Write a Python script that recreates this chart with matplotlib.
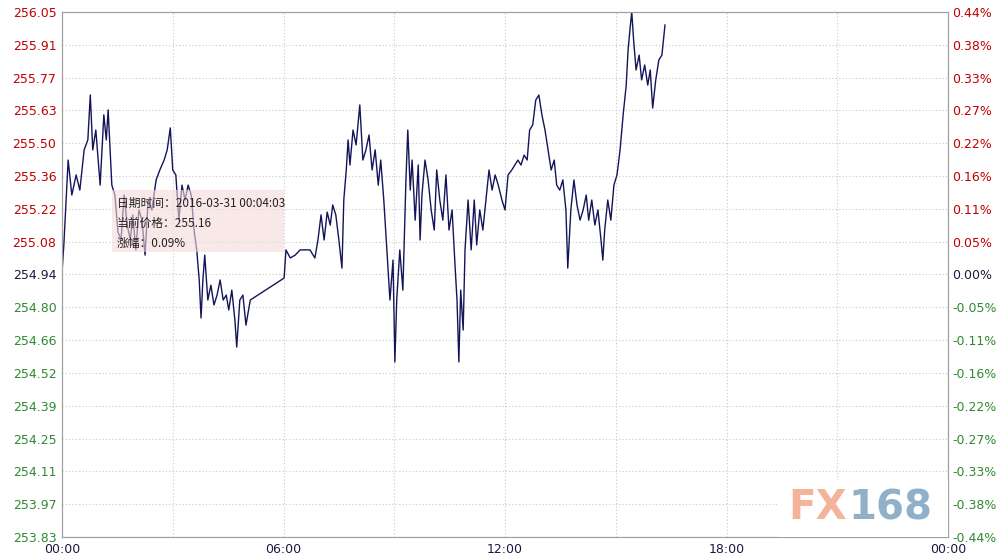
import matplotlib
matplotlib.use("Agg")
import matplotlib.pyplot as plt
from matplotlib.patches import Rectangle
import numpy as np

# minutes since 00:00 and price
minutes = [0, 3, 10, 16, 23, 29, 36, 42, 46, 50, 55, 62, 68, 72, 75, 81, 86, 91, 96, 101,
           106, 111, 115, 120, 125, 130, 135, 140, 146, 153, 159, 166, 171, 176, 180, 185,
           190, 195, 200, 205, 210, 215, 219, 223, 226, 229, 232, 237, 242, 247, 252, 257,
           262, 267, 271, 276, 281, 284, 289, 294, 299, 306, 361, 364, 371, 379, 387, 403,
           411, 416, 421, 426, 431, 436, 440, 445, 450, 455, 458, 462, 465, 468, 473, 478,
           484, 489, 494, 499, 504, 509, 514, 518, 523, 528, 533, 538, 541, 544, 549, 554,
           559, 562, 566, 569, 574, 579, 582, 585, 590, 595, 600, 605, 609, 614, 619, 624,
           629, 634, 639, 642, 645, 648, 652, 655, 660, 665, 670, 674, 679, 684, 689, 694,
           699, 704, 709, 715, 720, 725, 731, 736, 741, 746, 751, 756, 760, 765, 770, 775,
           780, 785, 790, 795, 800, 804, 809, 814, 819, 822, 827, 832, 837, 842, 847, 852,
           856, 861, 866, 871, 876, 879, 882, 887, 892, 897, 902, 907, 912, 917, 920, 923,
           926, 929, 933, 938, 942, 947, 952, 956, 960, 965, 970, 975, 980]
prices = [254.95, 255.065, 255.424, 255.276, 255.361, 255.297, 255.467, 255.509, 255.699, 255.467,
          255.551, 255.318, 255.615, 255.509, 255.636, 255.318, 255.276, 255.120, 255.086, 255.276,
          255.149, 255.086, 255.192, 255.044, 255.213, 255.170, 255.022, 255.255, 255.213, 255.340,
          255.382, 255.424, 255.467, 255.560, 255.382, 255.361, 255.170, 255.318, 255.255, 255.318,
          255.276, 255.120, 255.044, 254.917, 254.756, 254.917, 255.022, 254.832, 254.895, 254.811,
          254.853, 254.917, 254.832, 254.853, 254.790, 254.874, 254.747, 254.633, 254.832, 254.853,
          254.726, 254.832, 254.925, 255.044, 255.010, 255.022, 255.044, 255.044, 255.010, 255.086,
          255.192, 255.086, 255.204, 255.149, 255.234, 255.192, 255.086, 254.967, 255.255, 255.382,
          255.509, 255.403, 255.551, 255.488, 255.657, 255.424, 255.467, 255.530, 255.382, 255.467,
          255.318, 255.424, 255.255, 255.044, 254.832, 255.001, 254.570, 254.832, 255.044, 254.874,
          255.340, 255.551, 255.297, 255.424, 255.170, 255.403, 255.086, 255.276, 255.424, 255.340,
          255.213, 255.128, 255.382, 255.255, 255.170, 255.361, 255.128, 255.213, 254.967, 254.832,
          254.570, 254.874, 254.705, 255.044, 255.255, 255.044, 255.255, 255.065, 255.213, 255.128,
          255.255, 255.382, 255.297, 255.361, 255.318, 255.255, 255.213, 255.361, 255.382, 255.403,
          255.424, 255.403, 255.445, 255.424, 255.551, 255.572, 255.678, 255.699, 255.615, 255.551,
          255.467, 255.382, 255.424, 255.318, 255.297, 255.340, 255.213, 254.967, 255.213, 255.340,
          255.234, 255.170, 255.213, 255.276, 255.170, 255.255, 255.149, 255.213, 255.086, 255.001,
          255.128, 255.255, 255.170, 255.318, 255.361, 255.467, 255.615, 255.741, 255.889, 255.974,
          256.05, 255.932, 255.805, 255.868, 255.763, 255.826, 255.741, 255.805, 255.644, 255.763,
          255.847, 255.868, 255.995]

left_labels = ["253.83", "253.97", "254.11", "254.25", "254.39", "254.52", "254.66", "254.80",
               "254.94", "255.08", "255.22", "255.36", "255.50", "255.63", "255.77", "255.91", "256.05"]
right_labels = ["-0.44%", "-0.38%", "-0.33%", "-0.27%", "-0.22%", "-0.16%", "-0.11%", "-0.05%",
                "0.00%", "0.05%", "0.11%", "0.16%", "0.22%", "0.27%", "0.33%", "0.38%", "0.44%"]
x_labels = ["00:00", "06:00", "12:00", "18:00", "00:00"]
ymin, ymax = 253.83, 256.05

RED, GREEN, DARK = "#c00000", "#2f8a2f", "#1a1a40"

fig = plt.figure(figsize=(10.08, 5.59), dpi=100)
ax = fig.add_axes([0.0615, 0.0394, 0.879, 0.9391])
ax.plot(minutes, prices, color="#14145a", lw=1.0)
ax.set_xlim(0, 1440)
ax.set_ylim(ymin, ymax)

yt = np.linspace(ymin, ymax, len(left_labels))
ax.set_yticks(yt)
ax.set_yticklabels(left_labels, fontsize=9, fontfamily="DejaVu Sans")
for i, t in enumerate(ax.get_yticklabels()):
    t.set_color(GREEN if i < 8 else (DARK if i == 8 else RED))
ax.set_xticks(np.arange(0, 1441, 360))
ax.set_xticklabels(x_labels, fontsize=9, color=DARK)
ax.set_xticks(np.arange(0, 1441, 180), minor=True)
ax.tick_params(length=0, which="both", pad=4)
ax.grid(True, which="both", color="#c8c8c8", ls=(0, (1, 2)), lw=0.8)
for s in ax.spines.values():
    s.set_color("#a0a0a0")

ax2 = ax.twinx()
ax2.set_ylim(ymin, ymax)
ax2.set_yticks(yt)
ax2.set_yticklabels(right_labels, fontsize=9)
for i, t in enumerate(ax2.get_yticklabels()):
    t.set_color(GREEN if i < 8 else (DARK if i == 8 else RED))
ax2.tick_params(length=0, pad=3)
for s in ax2.spines.values():
    s.set_color("#a0a0a0")

# tooltip box
W, H = 1008, 559
fig.patches.append(Rectangle((112 / W, 1 - 252 / H), 172 / W, 62 / H, transform=fig.transFigure,
                             facecolor="#f6dada", alpha=0.6, edgecolor="none", zorder=5))
cjk = ["Noto Sans CJK SC", "DejaVu Sans"]
for i, line in enumerate(["日期时间：2016-03-31 00:04:03", "当前价格：255.16", "涨幅：0.09%"]):
    fig.text(117 / W, 1 - (203 + i * 20) / H, line, fontsize=8.5, family=cjk, color="#222222",
             va="center", zorder=6)

# logo
fig.patches.append(Rectangle((778 / W, 1 - 537 / H), 170 / W, 57 / H, transform=fig.transFigure,
                             facecolor="white", edgecolor="none", zorder=5))
fig.text(788 / W, 1 - 508 / H, "FX", fontsize=29, fontweight="bold", color="#f4b49a",
         va="center", zorder=6, family="DejaVu Sans")
fig.text(848 / W, 1 - 508 / H, "168", fontsize=29, fontweight="bold", color="#8fb0c8",
         va="center", zorder=6, family="DejaVu Sans")

fig.savefig("out.png", dpi=100)
